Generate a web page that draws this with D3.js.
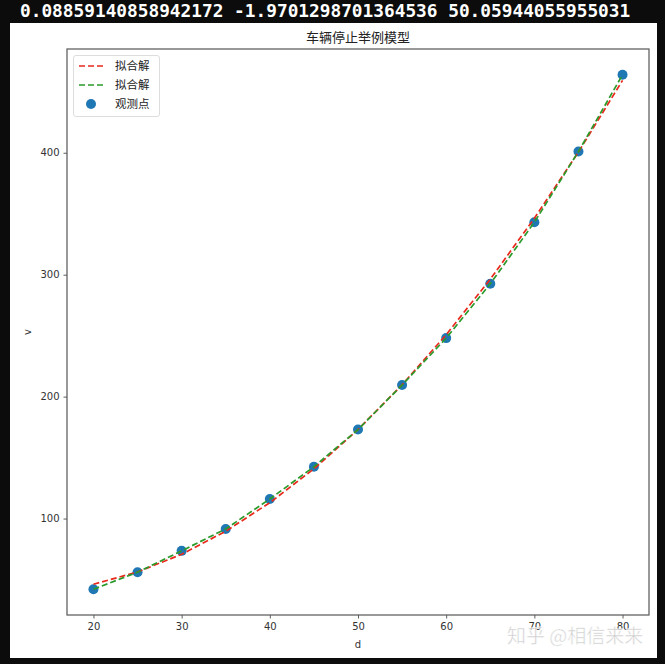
<!DOCTYPE html>
<html><head><meta charset="utf-8">
<script src="https://cdn.jsdelivr.net/npm/d3@7/dist/d3.min.js"></script>
<style>
html,body{margin:0;padding:0;background:#0c0c0c;}
svg{display:block;}
</style></head>
<body>
<svg id="c" width="665" height="664"></svg>
<script>
const headerText = "0.08859140858942172 -1.9701298701364536 50.05944055955031";
const title = "车辆停止举例模型";
const xLabel = "d";
const yLabel = "v";
const dValues = [20,25,30,35,40,45,50,55,60,65,70,75,80];
const observed = [42,56,73.5,91.5,116,142.5,173,209.5,248,292.5,343,401,464];
const fitRed = [46.1,56.2,70.7,89.6,113.0,140.8,173.0,209.7,250.8,296.3,346.3,400.6,459.4];
const fitGreen = [42,56,73.5,91.5,116,142.5,173,209.5,248,292.5,343,401,464];
const xTicks = [20,30,40,50,60,70,80];
const yTicks = [100,200,300,400];
const legendLabels = ["拟合解","拟合解","观测点"];

const svg = d3.select("#c");
svg.append("rect").attr("x",0).attr("y",0).attr("width",665).attr("height",664).attr("fill","#0c0c0c");
svg.append("text").attr("x",20).attr("y",17).attr("fill","#fff")
  .attr("font-family","DejaVu Sans Mono").attr("font-weight","bold").attr("font-size",17.8)
  .text(headerText);
svg.append("rect").attr("x",10).attr("y",23).attr("width",647).attr("height",635).attr("fill","#fff");

const L=67,R=649,T=49,B=615;
const x = d3.scaleLinear().domain([17,83]).range([L,R]);
const y = d3.scaleLinear().domain([20.9,485.1]).range([B,T]);

svg.append("text").attr("x",(L+R)/2).attr("y",42).attr("text-anchor","middle")
  .attr("font-family","Noto Sans CJK SC").attr("font-size",13).attr("fill","#222").text(title);

const gx = svg.append("g").attr("transform",`translate(0,${B})`)
  .call(d3.axisBottom(x).tickValues(xTicks).tickSize(3.5).tickPadding(4).tickFormat(d3.format("d")));
const gy = svg.append("g").attr("transform",`translate(${L},0)`)
  .call(d3.axisLeft(y).tickValues(yTicks).tickSize(3.5).tickPadding(4).tickFormat(d3.format("d")));
[gx,gy].forEach(g=>{
  g.select(".domain").remove();
  g.selectAll("text").attr("font-family","DejaVu Sans").attr("font-size",10).attr("fill","#333");
  g.selectAll("line").attr("stroke","#333").attr("stroke-width",0.8);
});
svg.append("rect").attr("x",L).attr("y",T).attr("width",R-L).attr("height",B-T)
  .attr("fill","none").attr("stroke","#555").attr("stroke-width",1.2);

svg.append("text").attr("x",(L+R)/2).attr("y",648).attr("text-anchor","middle")
  .attr("font-family","DejaVu Sans").attr("font-size",10).attr("fill","#333").text(xLabel);
svg.append("text").attr("transform",`translate(31,${(T+B)/2}) rotate(-90)`).attr("text-anchor","middle")
  .attr("font-family","DejaVu Sans").attr("font-size",10).attr("fill","#333").text(yLabel);

// scatter
svg.append("g").selectAll("circle").data(dValues).join("circle")
  .attr("cx",(d)=>x(d)).attr("cy",(d,i)=>y(observed[i])).attr("r",5).attr("fill","#1f77b4");

const line = d3.line().x(d=>x(d[0])).y(d=>y(d[1]));
svg.append("path").attr("d",line(dValues.map((d,i)=>[d,fitRed[i]])))
  .attr("fill","none").attr("stroke","#e8291c").attr("stroke-width",1.7).attr("stroke-dasharray","6,3");
svg.append("path").attr("d",line(dValues.map((d,i)=>[d,fitGreen[i]])))
  .attr("fill","none").attr("stroke","#2a9a2a").attr("stroke-width",1.7).attr("stroke-dasharray","6,3");

// legend
const lg = svg.append("g");
lg.append("rect").attr("x",73.5).attr("y",55.5).attr("width",86).attr("height",61).attr("rx",2.5)
  .attr("fill","#fff").attr("stroke","#ddd");
const colors=["#e8291c","#2a9a2a"];
[0,1].forEach(i=>{
  lg.append("line").attr("x1",79).attr("x2",104).attr("y1",66+i*19).attr("y2",66+i*19)
    .attr("stroke",colors[i]).attr("stroke-width",1.7).attr("stroke-dasharray","6,3");
});
lg.append("circle").attr("cx",91).attr("cy",104).attr("r",5).attr("fill","#1f77b4");
legendLabels.forEach((t,i)=>{
  lg.append("text").attr("x",115).attr("y",70+i*19).attr("font-family","Noto Sans CJK SC")
    .attr("font-size",11.5).attr("fill","#222").text(t);
});

// watermark
svg.append("text").attr("x",507).attr("y",643).attr("font-family","Noto Sans CJK SC")
  .attr("font-size",19).attr("fill","#c8c8c8").attr("stroke","#fff").attr("stroke-width",0.5)
  .attr("opacity",0.9).text("知乎 @相信来来");
</script>
</body></html>
